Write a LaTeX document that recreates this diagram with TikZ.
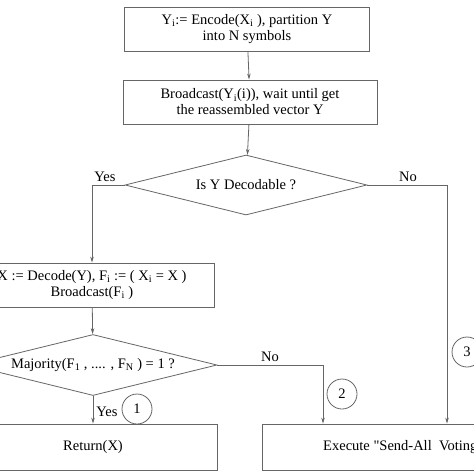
\documentclass[tikz,border=0pt]{standalone}
\usepackage{fontspec}
\setmainfont{Liberation Serif}[Ligatures=TeXOff]
\usetikzlibrary{shapes.geometric, arrows.meta, positioning, calc}

\tikzset{
    stepbox/.style={draw=black!60, line width=0.8pt, rectangle, align=center,
        minimum width=245pt, minimum height=44pt, inner sep=2pt},
    decision/.style={draw=black!60, line width=0.8pt, diamond, aspect=4,
        minimum width=246pt, minimum height=61pt, inner sep=0pt},
    numcircle/.style={draw=black!60, line width=0.8pt, circle, minimum size=30pt, inner sep=0pt},
    flow/.style={draw=black!60, line width=0.8pt, -{Stealth[length=6pt,width=3.5pt]}},
    lbl/.style={inner sep=1pt}
}

\begin{document}
\begin{tikzpicture}[x=1pt, y=-1pt, font=\fontsize{14.5}{16}\selectfont]
    \useasboundingbox (0,0) rectangle (474,474);
    \clip (0,0) rectangle (474,474);
    \fill[white] (0,0) rectangle (474,474);

    % steps
    \node[stepbox] (encode) at (247,29) {Y\textsubscript{i}:= Encode(X\textsubscript{i} ), partition Y\\into N symbols};
    \node[stepbox, minimum width=254pt] (bcast) at (250,102) {Broadcast(Y\textsubscript{i}(i)), wait until get\\the reassembled vector Y};
    \node[decision, minimum width=242pt, minimum height=60pt] (decodable) at (246,185) {Is Y Decodable ?};
    \node[stepbox] (decode) at (92,285) {X := Decode(Y), F\textsubscript{i} := ( X\textsubscript{i} = X )\\Broadcast(F\textsubscript{i} )};
    \node[decision, minimum width=248pt] (majority) at (93,365) {Majority(F\textsubscript{1} , .... , F\textsubscript{N} ) = 1 ?};
    \node[stepbox, minimum width=248pt, minimum height=46pt] (return) at (93,447) {Return(X)};
    \node[stepbox, minimum width=250pt, minimum height=46pt] (sendall) at (387,447) {};
    \node[anchor=west, inner sep=0pt] (sendalltxt) at (323,447) {Execute "Send-All\ \ Voting"};

    % corners
    \coordinate (yesturn) at (decode.north |- decodable.west);
    \coordinate (noturn) at (447,185);
    \coordinate (noturnb) at (323,365);

    % connectors
    \draw[flow] (encode) -- (bcast);
    \draw[flow] (bcast) -- (decodable);
    \draw[flow] (decodable.west) -- (yesturn) -- (decode.north);
    \draw[flow] (decodable.east) -- (noturn) -- (noturn |- sendall.north);
    \draw[flow] (decode) -- (majority);
    \draw[flow] (majority) -- (return);
    \draw[flow] (majority.east) -- (noturnb) -- (noturnb |- sendall.north);

    % labels
    \node[lbl] (yes1) at (105,177) {Yes};
    \node[lbl] (no1) at (408,177) {No};
    \node[lbl] (no2) at (270,357) {No};
    \node[lbl] (yes2) at (107,412) {Yes};

    % cases
    \node[numcircle] (case1) at (137,409) {1};
    \node[numcircle] (case2) at (342,394) {2};
    \node[numcircle] (case3) at (467,352) {3};
\end{tikzpicture}
\end{document}
